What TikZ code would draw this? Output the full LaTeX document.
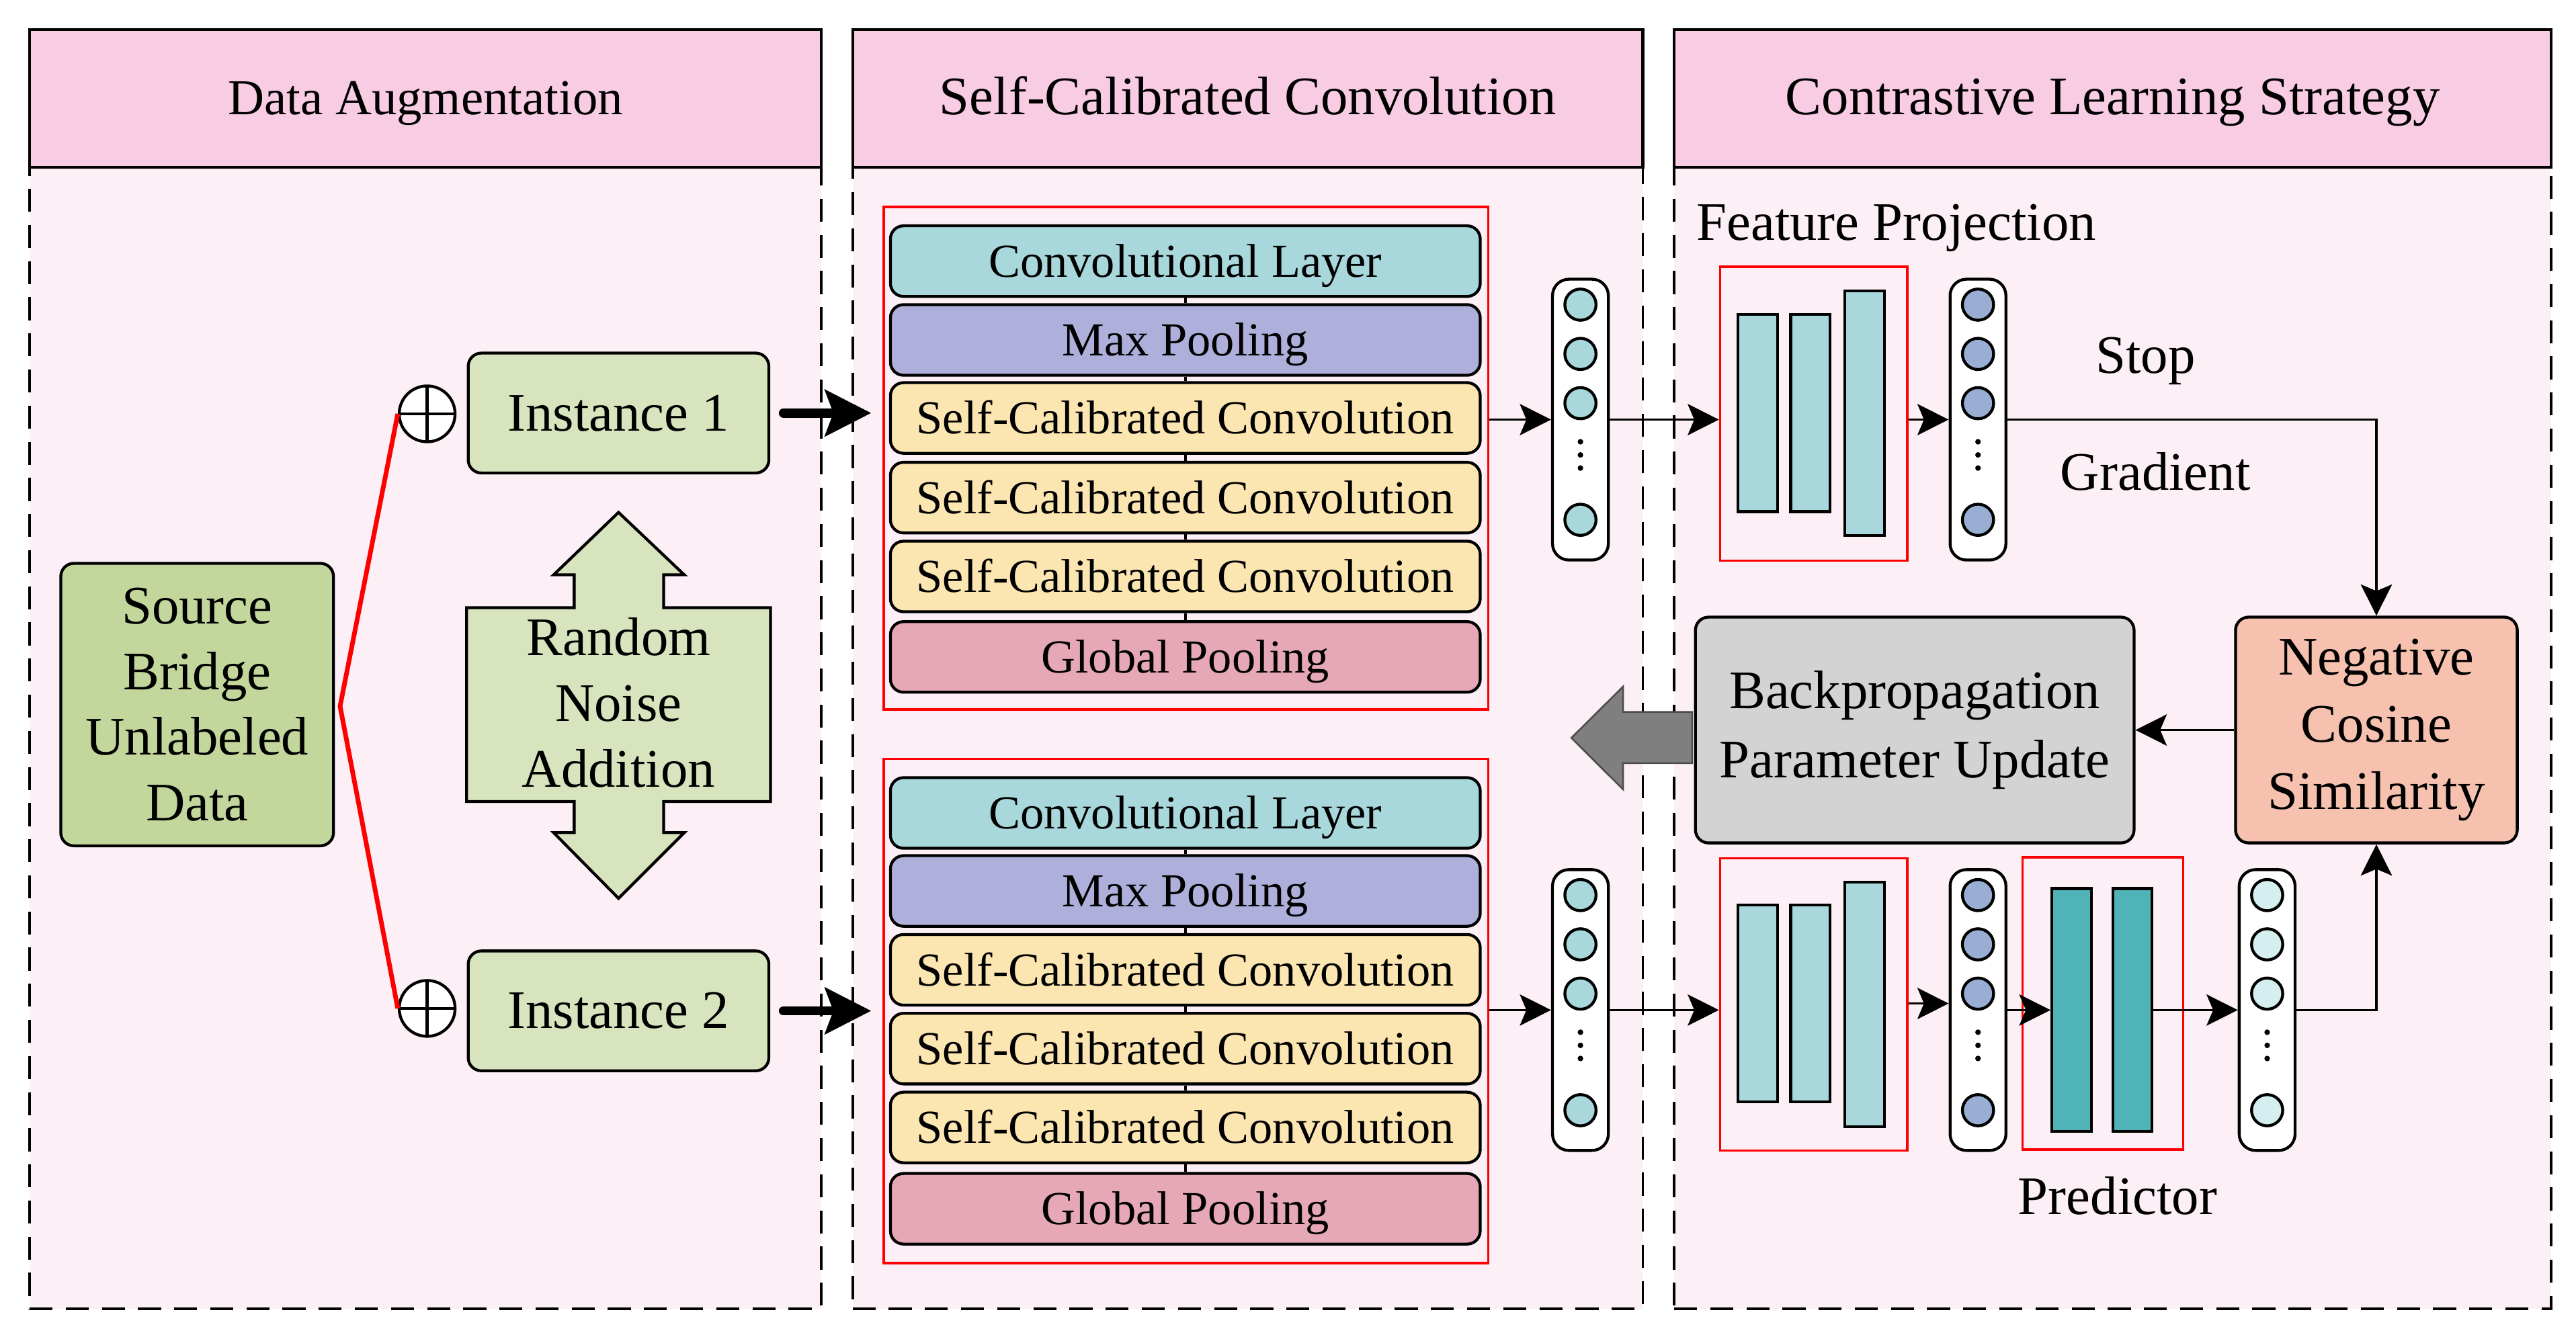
\documentclass[tikz,border=0pt]{standalone}
\usepackage{fontspec}
\setmainfont{Liberation Serif}
\usetikzlibrary{arrows.meta,positioning,calc}
\definecolor{headPink}{HTML}{F8CCE2}
\definecolor{panelPink}{HTML}{FCEFF6}
\definecolor{srcGreen}{HTML}{C3D69B}
\definecolor{instGreen}{HTML}{D7E4BD}
\definecolor{convTeal}{HTML}{A8D8DC}
\definecolor{maxPurple}{HTML}{AFAFDB}
\definecolor{sccYellow}{HTML}{FBE5B1}
\definecolor{globalPink}{HTML}{E6A7B6}
\definecolor{vecBlue}{HTML}{99AED3}
\definecolor{vecLight}{HTML}{D5EEF0}
\definecolor{predTeal}{HTML}{50B3B8}
\definecolor{negSalmon}{HTML}{F6C1AF}
\definecolor{backGray}{HTML}{D3D3D3}
\definecolor{bigGray}{HTML}{7F7F7F}
\tikzset{
    mainFont/.style={font=\fontsize{9.4}{11.4}\selectfont},
    headBox/.style={
        draw=black,
        fill=headPink,
        line width=0.5pt,
        inner sep=0pt,
        minimum height=8.4mm,
        text height=1.2ex,
        text depth=0pt,
        mainFont
    },
    panelBox/.style={
        draw=black,
        fill=panelPink,
        line width=0.45pt,
        dash pattern=on 1.4mm off 0.8mm,
        inner sep=0pt,
        minimum height=69.5mm
    },
    flowBox/.style={
        draw=black,
        rounded corners=0.8mm,
        line width=0.5pt,
        inner sep=0pt,
        align=center,
        mainFont
    },
    layerBox/.style={
        flowBox,
        minimum width=35.9mm,
        minimum height=4.3mm,
        text height=1.2ex,
        text depth=0pt,
        font=\fontsize{8.2}{9.8}\selectfont
    },
    convBox/.style={layerBox, fill=convTeal},
    maxBox/.style={layerBox, fill=maxPurple},
    sccBox/.style={layerBox, fill=sccYellow},
    globalBox/.style={layerBox, fill=globalPink},
    redFrame/.style={draw=red, line width=0.4pt, inner sep=0pt},
    vecCol/.style={
        draw=black,
        fill=white,
        rounded corners=1mm,
        line width=0.5pt,
        minimum width=3.4mm,
        minimum height=17.1mm,
        inner sep=0pt
    },
    unitDot/.style={circle, draw=black, line width=0.5pt, minimum size=1.9mm, inner sep=0pt},
    barBox/.style={draw=black, line width=0.5pt, minimum width=2.4mm, inner sep=0pt},
    oplus/.style={
        circle, draw=black, fill=white, line width=0.5pt, minimum size=3.4mm, inner sep=0pt,
        path picture={
            \draw[line width=0.5pt] (path picture bounding box.north) -- (path picture bounding box.south);
            \draw[line width=0.5pt] (path picture bounding box.west) -- (path picture bounding box.east);
        }
    },
}

\begin{document}
\begin{tikzpicture}[x=0.1mm, y=-0.1mm,
    arrowLine/.style={-{Stealth[length=1.9mm, width=1.9mm, inset=0.4mm]}, line width=0.4pt},
    thickArrow/.style={-{Stealth[length=2.8mm, width=2.8mm, inset=0.5mm]}, line width=1.6pt, line cap=round},
    linkLine/.style={line width=0.5pt},
    redLine/.style={red, line width=0.8pt}
]
    \useasboundingbox (0,0) rectangle (1568,814);

    % Stage panels and headers
    \node[panelBox, minimum width=48.2mm] (panelAug) at (259,449.5) {};
    \node[panelBox, minimum width=48.1mm] (panelScc) at (759.5,449.5) {};
    \node[panelBox, minimum width=53.4mm] (panelCls) at (1286,449.5) {};
    \node[headBox, minimum width=48.2mm, font=\fontsize{8.7}{10.4}\selectfont] (headAug) at (259,60) {Data Augmentation};
    \node[headBox, minimum width=48.1mm] (headScc) at (759.5,60) {Self-Calibrated Convolution};
    \node[headBox, minimum width=53.4mm] (headCls) at (1286,60) {Contrastive Learning Strategy};

    % Data augmentation
    \node[flowBox, fill=srcGreen, minimum width=16.6mm, minimum height=17.2mm] (srcData) at (120,429) {Source\\Bridge\\Unlabeled\\Data};
    \node[flowBox, fill=instGreen, minimum width=18.3mm, minimum height=7.3mm] (instA) at (376.5,251.5) {Instance 1};
    \node[flowBox, fill=instGreen, minimum width=18.3mm, minimum height=7.3mm] (instB) at (376.5,615.5) {Instance 2};
    \node[oplus] (plusA) at (260,252) {};
    \node[oplus] (plusB) at (260,614) {};
    \coordinate (fork) at (207,430);
    \draw[redLine] (plusA.west) -- (fork) -- (plusB.west);

    \draw[fill=instGreen, line width=0.5pt] (376.5,312) -- (416.5,350) -- (404,350) -- (404,370) -- (469,370) -- (469,488)
        -- (404,488) -- (404,507) -- (416.5,507) -- (376.5,547) -- (337,507) -- (349.5,507) -- (349.5,488)
        -- (284,488) -- (284,370) -- (349.5,370) -- (349.5,350) -- (337,350) -- cycle;
    \node[mainFont, align=center] (noiseTxt) at (376.5,428) {Random\\Noise\\Addition};

    % Self-calibrated convolution branches
    \node[redFrame, minimum width=36.8mm, minimum height=30.6mm] (redA) at (722,279) {};
    \node[convBox] (layA1) at (721.5,159) {Convolutional Layer};
    \node[maxBox] (layA2) at (721.5,207) {Max Pooling};
    \node[sccBox] (layA3) at (721.5,254.5) {Self-Calibrated Convolution};
    \node[sccBox] (layA4) at (721.5,303) {Self-Calibrated Convolution};
    \node[sccBox] (layA5) at (721.5,351) {Self-Calibrated Convolution};
    \node[globalBox] (layA6) at (721.5,400) {Global Pooling};
    \draw[linkLine] (layA1.south) -- (layA2.north);
    \draw[linkLine] (layA2.south) -- (layA3.north);
    \draw[linkLine] (layA3.south) -- (layA4.north);
    \draw[linkLine] (layA4.south) -- (layA5.north);
    \draw[linkLine] (layA5.south) -- (layA6.north);

    \node[redFrame, minimum width=36.8mm, minimum height=30.7mm] (redB) at (722,615.5) {};
    \node[convBox] (layB1) at (721.5,495) {Convolutional Layer};
    \node[maxBox] (layB2) at (721.5,542.5) {Max Pooling};
    \node[sccBox] (layB3) at (721.5,590.5) {Self-Calibrated Convolution};
    \node[sccBox] (layB4) at (721.5,638.5) {Self-Calibrated Convolution};
    \node[sccBox] (layB5) at (721.5,686.5) {Self-Calibrated Convolution};
    \node[globalBox] (layB6) at (721.5,736) {Global Pooling};
    \draw[linkLine] (layB1.south) -- (layB2.north);
    \draw[linkLine] (layB2.south) -- (layB3.north);
    \draw[linkLine] (layB3.south) -- (layB4.north);
    \draw[linkLine] (layB4.south) -- (layB5.north);
    \draw[linkLine] (layB5.south) -- (layB6.north);

    \draw[thickArrow, shorten <=0.8mm, shorten >=0.7mm] (instA.east) -- (instA.east -| redA.west);
    \draw[thickArrow, shorten <=0.8mm, shorten >=0.7mm] (instB.east) -- (instB.east -| redB.west);

    % Feature vectors
    \node[vecCol] (vecA) at (962,255.5) {};
    \node[unitDot, fill=convTeal] (vecA1) at (962,185.5) {};
    \node[unitDot, fill=convTeal] (vecA2) at (962,215.5) {};
    \node[unitDot, fill=convTeal] (vecA3) at (962,245.5) {};
    \node[unitDot, fill=convTeal] (vecA4) at (962,316.5) {};
    \fill (962,269) circle (1.7) (962,277) circle (1.7) (962,285) circle (1.7);

    \node[vecCol] (vecB) at (962,615) {};
    \node[unitDot, fill=convTeal] (vecB1) at (962,545) {};
    \node[unitDot, fill=convTeal] (vecB2) at (962,575) {};
    \node[unitDot, fill=convTeal] (vecB3) at (962,605) {};
    \node[unitDot, fill=convTeal] (vecB4) at (962,676) {};
    \fill (962,628.5) circle (1.7) (962,636.5) circle (1.7) (962,644.5) circle (1.7);

    \draw[arrowLine] (redA.east |- vecA.west) -- (vecA.west);
    \draw[arrowLine] (redB.east |- vecB.west) -- (vecB.west);

    % Feature projection
    \node[mainFont, anchor=west, inner sep=0pt] (fpLabel) at (1032,139) {Feature Projection};
    \node[redFrame, minimum width=11.4mm, minimum height=17.9mm] (fpA) at (1104,252) {};
    \node[barBox, fill=convTeal, minimum height=12mm] (barA1) at (1070,251.5) {};
    \node[barBox, fill=convTeal, minimum height=12mm] (barA2) at (1102,251.5) {};
    \node[barBox, fill=convTeal, minimum height=14.9mm] (barA3) at (1135,251.5) {};

    \node[vecCol] (vecC) at (1204,255.5) {};
    \node[unitDot, fill=vecBlue] (vecC1) at (1204,185.5) {};
    \node[unitDot, fill=vecBlue] (vecC2) at (1204,215.5) {};
    \node[unitDot, fill=vecBlue] (vecC3) at (1204,245.5) {};
    \node[unitDot, fill=vecBlue] (vecC4) at (1204,316.5) {};
    \fill (1204,269) circle (1.7) (1204,277) circle (1.7) (1204,285) circle (1.7);

    \node[redFrame, minimum width=11.4mm, minimum height=17.8mm] (fpB) at (1104,611.5) {};
    \node[barBox, fill=convTeal, minimum height=12mm] (barB1) at (1070,611) {};
    \node[barBox, fill=convTeal, minimum height=12mm] (barB2) at (1102,611) {};
    \node[barBox, fill=convTeal, minimum height=14.9mm] (barB3) at (1135,611.5) {};

    \node[vecCol] (vecD) at (1204,615) {};
    \node[unitDot, fill=vecBlue] (vecD1) at (1204,545) {};
    \node[unitDot, fill=vecBlue] (vecD2) at (1204,575) {};
    \node[unitDot, fill=vecBlue] (vecD3) at (1204,605) {};
    \node[unitDot, fill=vecBlue] (vecD4) at (1204,676) {};
    \fill (1204,628.5) circle (1.7) (1204,636.5) circle (1.7) (1204,644.5) circle (1.7);

    % Predictor
    \node[redFrame, minimum width=9.8mm, minimum height=17.8mm] (predBox) at (1280,611) {};
    \node[barBox, fill=predTeal, minimum height=14.8mm] (predA) at (1261,615) {};
    \node[barBox, fill=predTeal, minimum height=14.8mm] (predB) at (1298,615) {};
    \node[mainFont] (predLabel) at (1289,728) {Predictor};

    \node[vecCol] (vecE) at (1380,615) {};
    \node[unitDot, fill=vecLight] (vecE1) at (1380,545) {};
    \node[unitDot, fill=vecLight] (vecE2) at (1380,575) {};
    \node[unitDot, fill=vecLight] (vecE3) at (1380,605) {};
    \node[unitDot, fill=vecLight] (vecE4) at (1380,676) {};
    \fill (1380,628.5) circle (1.7) (1380,636.5) circle (1.7) (1380,644.5) circle (1.7);

    % Loss and update
    \node[flowBox, fill=negSalmon, minimum width=17.15mm, minimum height=13.75mm, font=\fontsize{9.4}{11.6}\selectfont] (negSim) at (1446.5,444.5) {Negative\\Cosine\\Similarity};
    \node[flowBox, fill=backGray, minimum width=26.7mm, minimum height=13.75mm, font=\fontsize{9.4}{12.1}\selectfont] (backProp) at (1165.5,444.5) {Backpropagation\\Parameter Update};
    \fill[bigGray, draw=black!70, line width=0.3pt] (1030,433.5) -- (988,433.5) -- (988,418) -- (956.5,449.3)
        -- (988,480.7) -- (988,464.7) -- (1030,464.7) -- cycle;

    \node[mainFont] (stopTxt) at (1306,220) {Stop};
    \node[mainFont] (gradTxt) at (1312,287) {Gradient};

    % Connectors
    \draw[arrowLine] (vecA.east) -- (vecA.east -| fpA.west);
    \draw[arrowLine] (fpA.east |- vecC.west) -- (vecC.west);
    \draw[arrowLine] (vecC.east) -| (negSim.north);
    \draw[arrowLine] (vecB.east) -- (vecB.east -| fpB.west);
    \draw[arrowLine] (fpB.east |- barB2.east) -- (vecD.west |- barB2.east);
    \draw[arrowLine] (vecD.east) -- (predA.west);
    \draw[arrowLine] (predB.east) -- (vecE.west);
    \draw[arrowLine] (vecE.east) -| (negSim.south);
    \draw[arrowLine] (negSim.west) -- (backProp.east);
\end{tikzpicture}
\end{document}
